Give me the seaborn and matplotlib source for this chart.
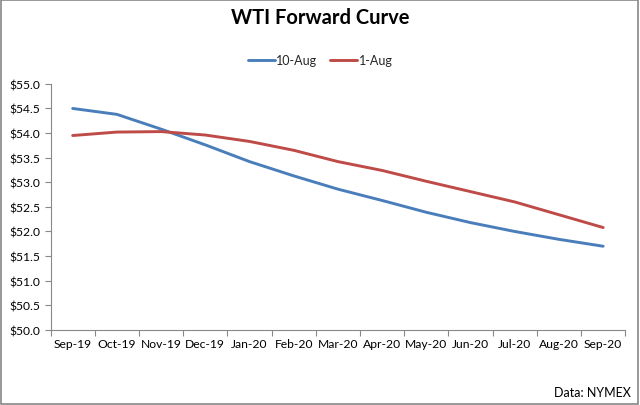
import matplotlib
matplotlib.use("Agg")
import matplotlib.pyplot as plt
import seaborn as sns
import pandas as pd
from matplotlib.patches import Rectangle
from matplotlib.ticker import FixedLocator, FuncFormatter

months = ["Sep-19", "Oct-19", "Nov-19", "Dec-19", "Jan-20", "Feb-20", "Mar-20",
          "Apr-20", "May-20", "Jun-20", "Jul-20", "Aug-20", "Sep-20"]
aug10 = [54.50, 54.38, 54.08, 53.76, 53.42, 53.13, 52.86, 52.63, 52.39, 52.18, 52.00, 51.84, 51.70]
aug01 = [53.95, 54.02, 54.03, 53.96, 53.83, 53.65, 53.42, 53.24, 53.02, 52.81, 52.60, 52.34, 52.08]
series_names = ["10-Aug", "1-Aug"]
colors = ["#4A7EBB", "#BE4B48"]

sns.set_theme(style="white")
plt.rcParams["font.family"] = ["Lato", "DejaVu Sans"]

df = pd.DataFrame({
    "x": list(range(len(months))) * 2,
    "price": aug10 + aug01,
    "series": [series_names[0]] * len(months) + [series_names[1]] * len(months),
})

fig = plt.figure(figsize=(6.4, 4.06), dpi=100)
ax = fig.add_axes([0.079, 0.185, 0.898, 0.606])
sns.lineplot(data=df, x="x", y="price", hue="series", palette=colors,
             linewidth=2.1, ax=ax, legend=False)

ax.set_xlim(-0.5, len(months) - 0.5)
ax.set_ylim(50.0, 55.0)
ax.set_yticks([50 + 0.5 * i for i in range(11)])
ax.yaxis.set_major_formatter(FuncFormatter(lambda v, p: f"${v:.1f}"))
ax.set_xticks(range(len(months)))
ax.set_xticklabels(months)
ax.xaxis.set_minor_locator(FixedLocator([i - 0.5 for i in range(len(months) + 1)]))
ax.tick_params(axis="x", which="major", length=0, pad=6, labelsize=8.7, colors="black")
ax.tick_params(axis="x", which="minor", length=4, width=0.8, color="#888888", bottom=True, direction="out")
ax.tick_params(axis="y", which="major", length=4, width=0.8, color="#888888", left=True, direction="out",
               labelsize=8.7, labelcolor="black")
for s in ["top", "right"]:
    ax.spines[s].set_visible(False)
for s in ["left", "bottom"]:
    ax.spines[s].set_color("#888888")
    ax.spines[s].set_linewidth(0.8)
ax.set_xlabel("")
ax.set_ylabel("")
ax.grid(False)

fig.text(0.5, 0.955, "WTI Forward Curve", ha="center", va="center",
         fontsize=14.5, fontweight="bold", color="black")

handles = [plt.Line2D([], [], color=c, linewidth=2.1) for c in colors]
fig.legend(handles, series_names, loc="center", bbox_to_anchor=(0.5, 0.850), ncol=2,
           frameon=False, fontsize=9, handlelength=2.2, handletextpad=0.1, columnspacing=1.0)

fig.text(0.985, 0.032, "Data: NYMEX", ha="right", va="center", fontsize=9, color="black")

fig.patches.append(Rectangle((0.002, 0.003), 0.995, 0.994, transform=fig.transFigure,
                             fill=False, edgecolor="#868686", linewidth=1.2))

fig.savefig("out.png", dpi=100)
